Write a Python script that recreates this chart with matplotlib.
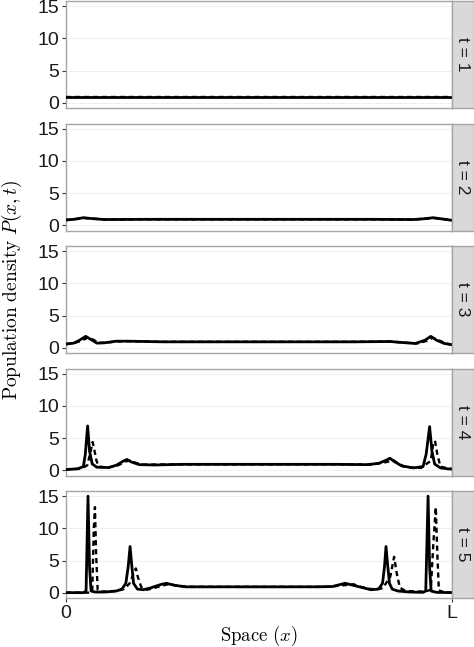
import matplotlib
matplotlib.use("Agg")
import matplotlib.pyplot as plt

# --- Data (x as a fraction of the domain length L) ---
TIMES = [1, 2, 3, 4, 5]

t1_x_solid = [0.0, 0.25, 0.5, 0.75, 1.0]
t1_y_solid = [0.95, 0.95, 0.95, 0.95, 0.95]
t1_x_dash = [0.0, 0.25, 0.5, 0.75, 1.0]
t1_y_dash = [0.95, 0.95, 0.95, 0.95, 0.95]

t2_x_solid = [0.0, 0.02, 0.045, 0.07, 0.1, 0.2, 0.5, 0.8, 0.9, 0.93, 0.951, 0.975, 1.0]
t2_y_solid = [0.85, 0.95, 1.2, 1.05, 0.92, 0.95, 0.95, 0.95, 0.92, 1.05, 1.2, 1.0, 0.8]
t2_x_dash = [0.0, 0.02, 0.048, 0.072, 0.1, 0.2, 0.5, 0.8, 0.9, 0.93, 0.954, 0.978, 1.0]
t2_y_dash = [0.85, 0.95, 1.15, 1.05, 0.92, 0.95, 0.95, 0.95, 0.92, 1.05, 1.15, 1.0, 0.8]

t3_x_solid = [0.0, 0.02, 0.035, 0.051, 0.065, 0.08, 0.1, 0.13, 0.16, 0.25, 0.5, 0.75,
              0.84, 0.87, 0.905, 0.93, 0.945, 0.96, 0.98, 1.0]
t3_y_solid = [0.6, 0.75, 1.2, 1.8, 1.3, 0.75, 0.8, 1.05, 1.05, 0.95, 0.95, 0.95,
              1.0, 0.85, 0.7, 1.2, 1.8, 1.2, 0.7, 0.5]
t3_x_dash = [0.0, 0.02, 0.04, 0.056, 0.07, 0.085, 0.1, 0.13, 0.16, 0.25, 0.5, 0.75,
             0.84, 0.87, 0.91, 0.935, 0.95, 0.965, 0.985, 1.0]
t3_y_dash = [0.6, 0.75, 1.1, 1.6, 1.3, 0.8, 0.8, 1.0, 1.05, 0.95, 0.95, 0.95,
             1.0, 0.85, 0.7, 1.1, 1.6, 1.2, 0.7, 0.5]

t4_x_solid = [0.0, 0.03, 0.045, 0.05, 0.056, 0.061, 0.068, 0.08, 0.11, 0.13, 0.15, 0.158,
              0.17, 0.19, 0.23, 0.3, 0.5, 0.7, 0.78, 0.81, 0.83, 0.839, 0.85, 0.87, 0.9,
              0.925, 0.933, 0.942, 0.948, 0.955, 0.97, 0.99, 1.0]
t4_y_solid = [0.15, 0.25, 0.6, 2.5, 6.9, 3.0, 1.0, 0.5, 0.45, 0.8, 1.5, 1.7,
              1.3, 0.9, 0.85, 0.95, 0.95, 0.95, 0.9, 1.1, 1.6, 1.9, 1.4, 0.7, 0.4,
              0.6, 2.5, 6.8, 3.0, 1.0, 0.4, 0.25, 0.2]
t4_x_dash = [0.0, 0.04, 0.055, 0.062, 0.069, 0.074, 0.079, 0.085, 0.11, 0.135, 0.155, 0.165,
             0.18, 0.2, 0.3, 0.5, 0.7, 0.79, 0.83, 0.848, 0.86, 0.88, 0.92,
             0.945, 0.951, 0.956, 0.962, 0.97, 0.99, 1.0]
t4_y_dash = [0.15, 0.3, 0.8, 2.5, 4.4, 3.0, 1.5, 0.6, 0.45, 0.8, 1.4, 1.55,
             1.2, 0.9, 0.95, 0.95, 0.95, 0.9, 1.3, 1.6, 1.1, 0.5, 0.4,
             1.5, 4.0, 4.6, 2.5, 0.6, 0.3, 0.25]

t5_x_solid = [0.0, 0.045, 0.052, 0.057, 0.061, 0.065, 0.075, 0.1, 0.13, 0.145, 0.155, 0.161,
              0.166, 0.170, 0.175, 0.185, 0.2, 0.22, 0.245, 0.26, 0.28, 0.31, 0.35, 0.5,
              0.65, 0.69, 0.71, 0.723, 0.74, 0.77, 0.79, 0.81, 0.82, 0.825, 0.829, 0.833,
              0.838, 0.845, 0.86, 0.89, 0.925, 0.932, 0.938, 0.942, 0.946, 0.96, 1.0]
t5_y_solid = [0.05, 0.05, 0.3, 15.0, 4.0, 0.3, 0.15, 0.15, 0.3, 0.6, 1.5, 4.0,
              7.2, 4.5, 1.5, 0.6, 0.5, 0.8, 1.3, 1.5, 1.2, 0.95, 0.95, 0.95,
              0.95, 1.0, 1.3, 1.5, 1.25, 0.8, 0.5, 0.6, 1.5, 4.0, 7.2, 4.5,
              1.5, 0.6, 0.3, 0.15, 0.1, 0.3, 15.0, 4.0, 0.3, 0.1, 0.05]
t5_x_dash = [0.0, 0.06, 0.068, 0.072, 0.075, 0.078, 0.082, 0.09, 0.13, 0.15, 0.165, 0.175,
             0.181, 0.186, 0.195, 0.21, 0.23, 0.26, 0.27, 0.29, 0.32, 0.5, 0.68, 0.72,
             0.745, 0.76, 0.79, 0.82, 0.84, 0.85, 0.857, 0.865, 0.88, 0.93, 0.945, 0.952,
             0.958, 0.962, 0.966, 0.98, 1.0]
t5_y_dash = [0.05, 0.05, 0.3, 10.0, 13.3, 6.0, 0.5, 0.2, 0.3, 0.6, 1.5, 3.0,
             3.8, 2.5, 0.9, 0.5, 0.8, 1.3, 1.35, 1.1, 0.95, 0.95, 0.95, 1.2,
             1.35, 1.0, 0.6, 0.7, 2.5, 5.6, 3.0, 0.8, 0.3, 0.2, 0.5, 8.0,
             13.3, 6.0, 0.4, 0.1, 0.05]

SOLID = [(t1_x_solid, t1_y_solid), (t2_x_solid, t2_y_solid), (t3_x_solid, t3_y_solid),
         (t4_x_solid, t4_y_solid), (t5_x_solid, t5_y_solid)]
DASHED = [(t1_x_dash, t1_y_dash), (t2_x_dash, t2_y_dash), (t3_x_dash, t3_y_dash),
          (t4_x_dash, t4_y_dash), (t5_x_dash, t5_y_dash)]

Y_TICKS = [0, 5, 10, 15]
X_TICKS = [0, 1]
X_TICK_LABELS = ["0", "L"]

# --- Layout (pixels) ---
W, H = 474, 647
LEFT, RIGHT, STRIP_R = 66, 452, 473.5
PANEL_H = 107
PANEL_TOPS = [1, 123.5, 246, 368.5, 491]

plt.rcParams["mathtext.fontset"] = "cm"
SANS = "Liberation Sans"
BORDER = "#a6a6a6"

fig = plt.figure(figsize=(W / 100, H / 100), dpi=100)

for i, t in enumerate(TIMES):
    top = PANEL_TOPS[i]
    y0 = 1 - (top + PANEL_H) / H
    ax = fig.add_axes([LEFT / W, y0, (RIGHT - LEFT) / W, PANEL_H / H])
    xs, ys = DASHED[i]
    ax.plot(xs, ys, color="black", lw=1.7, linestyle=(0, (2.2, 1.6)), zorder=3)
    xs, ys = SOLID[i]
    ax.plot(xs, ys, color="black", lw=2.0, solid_joinstyle="round", zorder=4)

    ax.set_xlim(0, 1)
    ax.set_ylim(-0.78, 15.8)
    ax.set_yticks(Y_TICKS)
    ax.set_yticklabels([str(v) for v in Y_TICKS], fontfamily=SANS, fontsize=14, color="#1a1a1a")
    ax.grid(axis="y", color="#efefef", lw=0.7)
    ax.set_axisbelow(True)
    ax.tick_params(axis="y", length=3, width=0.8, color="#333333", pad=2)
    for sp in ax.spines.values():
        sp.set_color(BORDER)
        sp.set_linewidth(1.0)
    if i == len(TIMES) - 1:
        ax.set_xticks(X_TICKS)
        ax.set_xticklabels(X_TICK_LABELS, fontfamily=SANS, fontsize=14, color="#1a1a1a")
        ax.tick_params(axis="x", length=3, width=0.8, color="#333333", pad=2)
    else:
        ax.set_xticks([])

    # facet strip on the right
    sax = fig.add_axes([RIGHT / W, y0, (STRIP_R - RIGHT) / W, PANEL_H / H])
    sax.set_facecolor("#d9d9d9")
    sax.set_xticks([])
    sax.set_yticks([])
    for sp in sax.spines.values():
        sp.set_color(BORDER)
        sp.set_linewidth(1.0)
    sax.text(0.5, 0.5, f"t = {t}", rotation=-90, ha="center", va="center",
             fontfamily=SANS, fontsize=12.5, color="#1a1a1a", transform=sax.transAxes)

fig.text(12 / W, 1 - 290 / H, r"$\mathrm{Population\ density}\ P(x,t)$",
         rotation=90, ha="center", va="center", fontsize=14)
fig.text((LEFT + RIGHT) / 2 / W, 1 - 636 / H, r"$\mathrm{Space}\ (x)$",
         ha="center", va="center", fontsize=13.5)

fig.savefig("out.png", dpi=100)
